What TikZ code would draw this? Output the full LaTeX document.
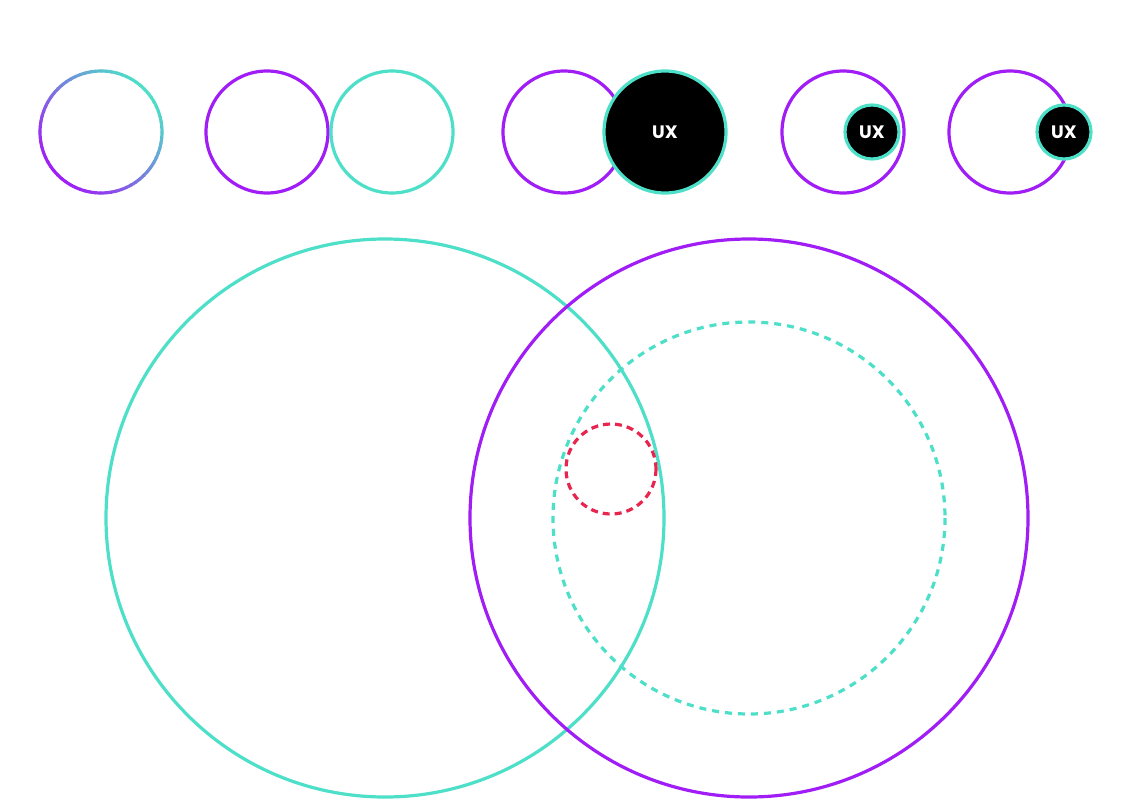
\documentclass[tikz,border=0pt]{standalone}
\usepackage{fontspec}
\setmainfont{Poppins}
\definecolor{pur}{HTML}{A01EF5}
\definecolor{cyn}{HTML}{4DDFC8}
\definecolor{rd}{HTML}{E6264F}
\begin{document}
\begin{tikzpicture}[x=1pt,y=-1pt,
  pc/.style={draw=pur,line width=3.2pt},
  cc/.style={draw=cyn,line width=3.2pt},
  ux/.style={circle,fill=black,draw=cyn,line width=3.2pt,text=white,font=\bfseries\fontsize{18}{18}\selectfont,inner sep=0pt}]
\useasboundingbox (0,0) rectangle (1135,800);
% gradient circle
\foreach \a in {0,5,...,355}{
  \pgfmathsetmacro\t{50+50*cos(\a+45)}
  \draw[line width=3.2pt,draw=cyn!\t!pur] (101,132) ++(\a:61) arc[start angle=\a,end angle=\a+5.6,radius=61];
}
\node[circle,minimum size=0pt] (g1) at (101,132) {};
\draw[pc] (267,132) circle[radius=61];
\draw[cc] (392,132) circle[radius=61];
\draw[pc] (564,132) circle[radius=61];
\node[ux,minimum size=122pt] (u1) at (665,132) {UX};
\draw[pc] (843,132) circle[radius=61];
\node[ux,minimum size=54pt] (u2) at (872,132) {UX};
\draw[pc] (1010,132) circle[radius=61];
\node[ux,minimum size=54pt] (u3) at (1064,132) {UX};
% big
\draw[cc] (385,518) circle[radius=279];
\draw[pc] (749,518) circle[radius=279];
\draw[cc,dash pattern=on 7pt off 6pt] (749,518) circle[radius=196];
\draw[draw=rd,line width=3.2pt,dash pattern=on 7pt off 5pt] (611,469) circle[radius=45];
\end{tikzpicture}
\end{document}
